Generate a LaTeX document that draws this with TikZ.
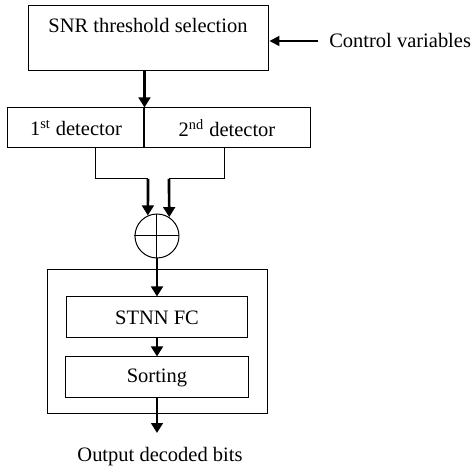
\documentclass[tikz,border=0pt]{standalone}
\usepackage{fontspec}
\setmainfont{Liberation Serif}
\usetikzlibrary{arrows.meta,positioning,calc}

\tikzset{
  blk/.style={draw, line width=0.6pt, rectangle, inner sep=0pt, font=\fontsize{12.3}{14}\selectfont},
  txt/.style={inner sep=0pt, font=\fontsize{12.3}{14}\selectfont},
  thickarr/.style={line width=1.6pt, -{Triangle[length=6pt,width=7pt]}},
  ctrlarr/.style={line width=1.1pt, -{Triangle[length=6pt,width=6pt]}},
}

\begin{document}
\begin{tikzpicture}
  \useasboundingbox (0,0) rectangle (10,10);

  % threshold selection
  \node[blk, minimum width=5.063cm, minimum height=1.371cm] (snr) at (3.143,9.188) {};
  \node[txt] (snrtxt) at (3.122,9.454) {SNR threshold selection};
  \node[txt, anchor=west] (ctrl) at (6.94,9.135) {Control variables};
  \draw[ctrlarr, shorten <=0.23cm] (ctrl.west) -- (ctrl.west -| snr.east);

  % detectors
  \node[blk, minimum width=2.869cm, minimum height=0.844cm] (det1) at (1.603,7.300) {1\textsuperscript{st} detector};
  \node[blk, minimum width=3.502cm, minimum height=0.844cm] (det2) at (4.789,7.300) {2\textsuperscript{nd} detector};
  \draw[thickarr] (snr.south -| det1.north east) -- (det1.north east);

  % combiner
  \node[draw, line width=0.6pt, circle, minimum size=0.928cm, inner sep=0pt] (sum) at (3.312,5.021) {};
  \draw[line width=0.6pt] (sum.north) -- (sum.south);
  \draw[line width=0.6pt] (sum.west) -- (sum.east);

  \coordinate (m1) at (2.025,6.224);
  \coordinate (m2) at (4.726,6.224);
  \coordinate (j1) at (3.123,6.224);
  \coordinate (j2) at (3.565,6.224);
  \draw[line width=0.6pt] (det1.south -| m1) -- (m1) -- (j1);
  \draw[line width=0.6pt] (det2.south -| m2) -- (m2) -- (j2);
  \draw[thickarr] (j1) -- (sum.114);
  \draw[thickarr] (j2) -- (sum.57);

  % decoder
  \node[blk, minimum width=4.641cm, minimum height=3.038cm] (outer) at (3.333,2.785) {};
  \node[blk, minimum width=3.819cm, minimum height=0.865cm] (stnn) at (3.312,3.302) {STNN FC};
  \node[blk, minimum width=3.840cm, minimum height=0.865cm] (sort) at (3.312,2.036) {Sorting};
  \draw[thickarr] (sum.south) -- (stnn.north);
  \draw[thickarr] (stnn.south) -- (sort.north);

  \coordinate (outend) at (3.312,0.865);
  \draw[thickarr] (sort.south) -- (outend);
  \node[txt] (out) at (3.375,0.359) {Output decoded bits};

\end{tikzpicture}
\end{document}
